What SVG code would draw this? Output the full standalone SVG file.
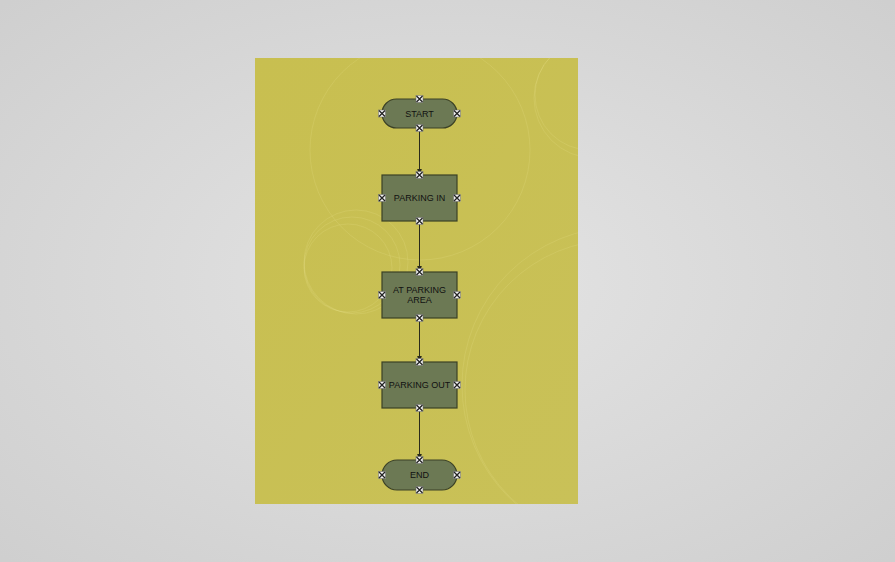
<svg xmlns="http://www.w3.org/2000/svg" width="895" height="562" viewBox="0 0 895 562">
<defs>
<radialGradient id="bg" cx="50%" cy="50%" r="70%">
<stop offset="0" stop-color="#e4e4e4"/>
<stop offset="1" stop-color="#cfcfcf"/>
</radialGradient>
<linearGradient id="page" x1="0" y1="0" x2="1" y2="1">
<stop offset="0" stop-color="#c8bf50"/>
<stop offset="1" stop-color="#c9c158"/>
</linearGradient>
<marker id="arr" viewBox="0 0 10 10" refX="10" refY="5" markerWidth="6" markerHeight="6" orient="auto" markerUnits="userSpaceOnUse">
<path d="M0,1 L10,5 L0,9 Z" fill="#2a2a1a"/>
</marker>
<symbol id="h" viewBox="0 0 6 6" overflow="visible">
<rect x="-3.5" y="-3.5" width="7" height="7" fill="#f0f0f0" stroke="#666" stroke-width="0.5"/>
<path d="M-3,-3 L3,3 M-3,3 L3,-3" stroke="#222" stroke-width="1.3"/>
</symbol>
<clipPath id="pc"><rect x="255" y="58" width="323" height="446"/></clipPath>
</defs>
<style>
.node{fill:#6c7954;stroke:#3b4126;stroke-width:1.2}
.lbl{font-family:"Liberation Sans",Arial,sans-serif;font-size:9px;fill:#111;text-anchor:middle}
.edge{stroke:#2a2a1a;stroke-width:1;fill:none}
.deco{fill:none;stroke:#f2eca0;stroke-opacity:0.2;stroke-width:0.8}
</style>
<rect width="895" height="562" fill="url(#bg)"/>
<rect x="255" y="58" width="323" height="446" fill="url(#page)"/>
<g id="decor" clip-path="url(#pc)">
<circle class="deco" cx="352" cy="265" r="48"/>
<circle class="deco" cx="356" cy="262" r="52"/>
<circle class="deco" cx="348" cy="268" r="44"/>
<circle class="deco" cx="590" cy="95" r="55"/>
<circle class="deco" cx="594" cy="98" r="60"/>
<circle class="deco" cx="615" cy="390" r="150"/>
<circle class="deco" cx="620" cy="385" r="158"/>
<circle class="deco" cx="420" cy="150" r="110" stroke-opacity="0.12"/>
</g>
<g id="connectors">
<line class="edge" x1="419.5" y1="128" x2="419.5" y2="175" marker-end="url(#arr)"/>
<line class="edge" x1="419.5" y1="221" x2="419.5" y2="272" marker-end="url(#arr)"/>
<line class="edge" x1="419.5" y1="318" x2="419.5" y2="362" marker-end="url(#arr)"/>
<line class="edge" x1="419.5" y1="408" x2="419.5" y2="460" marker-end="url(#arr)"/>
</g>
<g id="start">
<rect class="node" x="382" y="99" width="75" height="29" rx="14.5"/>
<text class="lbl" x="419.5" y="116.5">START</text>
</g>
<g id="parking-in">
<rect class="node" x="382" y="175" width="75" height="46"/>
<text class="lbl" x="419.5" y="200.5">PARKING IN</text>
</g>
<g id="at-parking-area">
<rect class="node" x="382" y="272" width="75" height="46"/>
<text class="lbl" x="419.5" y="293">AT PARKING</text>
<text class="lbl" x="419.5" y="303">AREA</text>
</g>
<g id="parking-out">
<rect class="node" x="382" y="362" width="75" height="46"/>
<text class="lbl" x="419.5" y="387.5">PARKING OUT</text>
</g>
<g id="end">
<rect class="node" x="382" y="460" width="75" height="30" rx="15"/>
<text class="lbl" x="419.5" y="478">END</text>
</g>
<g id="handles">
<use href="#h" x="419.5" y="99" width="6" height="6"/>
<use href="#h" x="382" y="113.5" width="6" height="6"/>
<use href="#h" x="457" y="113.5" width="6" height="6"/>
<use href="#h" x="419.5" y="128" width="6" height="6"/>
<use href="#h" x="419.5" y="175" width="6" height="6"/>
<use href="#h" x="382" y="198" width="6" height="6"/>
<use href="#h" x="457" y="198" width="6" height="6"/>
<use href="#h" x="419.5" y="221" width="6" height="6"/>
<use href="#h" x="419.5" y="272" width="6" height="6"/>
<use href="#h" x="382" y="295" width="6" height="6"/>
<use href="#h" x="457" y="295" width="6" height="6"/>
<use href="#h" x="419.5" y="318" width="6" height="6"/>
<use href="#h" x="419.5" y="362" width="6" height="6"/>
<use href="#h" x="382" y="385" width="6" height="6"/>
<use href="#h" x="457" y="385" width="6" height="6"/>
<use href="#h" x="419.5" y="408" width="6" height="6"/>
<use href="#h" x="419.5" y="460" width="6" height="6"/>
<use href="#h" x="382" y="475" width="6" height="6"/>
<use href="#h" x="457" y="475" width="6" height="6"/>
<use href="#h" x="419.5" y="490" width="6" height="6"/>
</g>
</svg>
